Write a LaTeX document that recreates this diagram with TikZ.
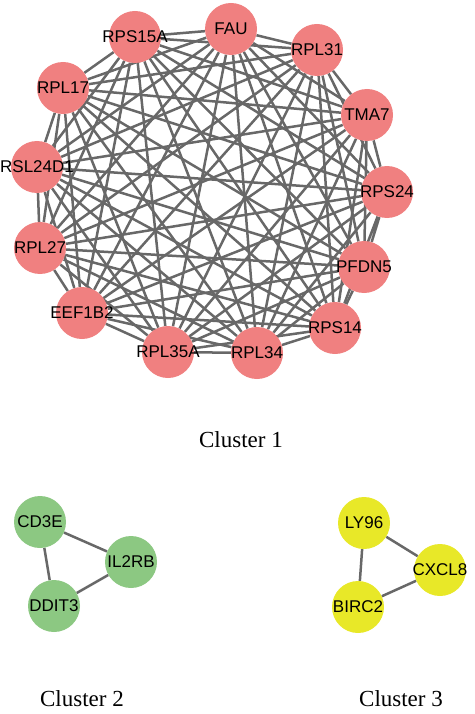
\documentclass[tikz,border=0pt]{standalone}
\usepackage{fontspec}
\setmainfont{Liberation Serif}
\newfontfamily\genefont{Liberation Sans}
\usetikzlibrary{positioning, backgrounds}
\definecolor{salmonnode}{RGB}{240,128,128}
\definecolor{greennode}{RGB}{140,200,130}
\definecolor{yellownode}{RGB}{232,232,40}
\definecolor{edgegray}{RGB}{104,104,104}
\tikzset{
  gene/.style={circle, minimum size=52pt, inner sep=0pt,
               label={[font=\genefont\fontsize{17}{19}\selectfont]center:#1}},
  hub/.style={gene=#1, fill=salmonnode},
  tcell/.style={gene=#1, fill=greennode},
  inflam/.style={gene=#1, fill=yellownode},
  link/.style={draw=edgegray, line width=2.5pt},
  caption/.style={font=\fontsize{23}{26}\selectfont, anchor=base},
}

\begin{document}
\begin{tikzpicture}[x=1pt, y=-1pt]
  \useasboundingbox (0,0) rectangle (474,714);
  % cluster 1
  \node[hub=FAU]     (fau)    at (231,29)  {};
  \node[hub=RPL31]   (rpl31)  at (317,50)  {};
  \node[hub=TMA7]    (tma7)   at (367,115) {};
  \node[hub=RPS24]   (rps24)  at (387,192) {};
  \node[hub=PFDN5]   (pfdn5)  at (364,267) {};
  \node[hub=RPS14]   (rps14)  at (335,328) {};
  \node[hub=RPL34]   (rpl34)  at (257,353) {};
  \node[hub=RPL35A]  (rpl35a) at (168,352) {};
  \node[hub=EEF1B2]  (eef1b2) at (82,313)  {};
  \node[hub=RPL27]   (rpl27)  at (40,248)  {};
  \node[hub=RSL24D1] (rsl24d1) at (37,167) {};
  \node[hub=RPL17]   (rpl17)  at (63,88)   {};
  \node[hub=RPS15A]  (rps15a) at (135,37)  {};
  \node[caption] (cap1) at (241,447) {Cluster 1};

  % cluster 2
  \node[tcell=CD3E]  (cd3e)  at (40,522)  {};
  \node[tcell=IL2RB] (il2rb) at (131,562) {};
  \node[tcell=DDIT3] (ddit3) at (54,606)  {};
  \node[caption] (cap2) at (82,706) {Cluster 2};

  % cluster 3
  \node[inflam=LY96]  (ly96)  at (364,523) {};
  \node[inflam=CXCL8] (cxcl8) at (440,570) {};
  \node[inflam=BIRC2] (birc2) at (358,607) {};
  \node[caption] (cap3) at (401,706) {Cluster 3};

  % edges go underneath the circles
  \begin{scope}[on background layer]
    \draw[link] (fau) -- (rpl31) (fau) -- (tma7) (fau) -- (rps24) (fau) -- (pfdn5)
      (fau) -- (rps14) (fau) -- (rpl34) (fau) -- (rpl35a) (fau) -- (eef1b2)
      (fau) -- (rpl27) (fau) -- (rsl24d1) (fau) -- (rpl17) (fau) -- (rps15a);
    \draw[link] (rpl31) -- (tma7) (rpl31) -- (rps24) (rpl31) -- (pfdn5)
      (rpl31) -- (rps14) (rpl31) -- (rpl34) (rpl31) -- (rpl35a) (rpl31) -- (eef1b2)
      (rpl31) -- (rpl27) (rpl31) -- (rsl24d1) (rpl31) -- (rpl17) (rpl31) -- (rps15a);
    \draw[link] (tma7) -- (rps24) (tma7) -- (pfdn5) (tma7) -- (rps14)
      (tma7) -- (rpl34) (tma7) -- (rpl35a) (tma7) -- (eef1b2) (tma7) -- (rpl27)
      (tma7) -- (rsl24d1) (tma7) -- (rpl17) (tma7) -- (rps15a);
    \draw[link] (rps24) -- (pfdn5) (rps24) -- (rps14) (rps24) -- (rpl34)
      (rps24) -- (rpl35a) (rps24) -- (eef1b2) (rps24) -- (rpl27)
      (rps24) -- (rsl24d1) (rps24) -- (rpl17) (rps24) -- (rps15a);
    \draw[link] (pfdn5) -- (rps14) (pfdn5) -- (rpl34) (pfdn5) -- (rpl35a)
      (pfdn5) -- (eef1b2) (pfdn5) -- (rpl27) (pfdn5) -- (rsl24d1)
      (pfdn5) -- (rpl17) (pfdn5) -- (rps15a);
    \draw[link] (rps14) -- (rpl34) (rps14) -- (rpl35a) (rps14) -- (eef1b2)
      (rps14) -- (rpl27) (rps14) -- (rsl24d1) (rps14) -- (rpl17) (rps14) -- (rps15a);
    \draw[link] (rpl34) -- (rpl35a) (rpl34) -- (eef1b2) (rpl34) -- (rpl27)
      (rpl34) -- (rsl24d1) (rpl34) -- (rpl17) (rpl34) -- (rps15a);
    \draw[link] (rpl35a) -- (eef1b2) (rpl35a) -- (rpl27) (rpl35a) -- (rsl24d1)
      (rpl35a) -- (rpl17) (rpl35a) -- (rps15a);
    \draw[link] (eef1b2) -- (rpl27) (eef1b2) -- (rsl24d1) (eef1b2) -- (rpl17)
      (eef1b2) -- (rps15a);
    \draw[link] (rpl27) -- (rsl24d1) (rpl27) -- (rpl17) (rpl27) -- (rps15a);
    \draw[link] (rsl24d1) -- (rpl17) (rsl24d1) -- (rps15a);
    \draw[link] (rpl17) -- (rps15a);
    % small clusters
    \draw[link] (cd3e) -- (il2rb) (cd3e) -- (ddit3) (ddit3) -- (il2rb);
    \draw[link] (ly96) -- (cxcl8) (ly96) -- (birc2) (birc2) -- (cxcl8);
  \end{scope}
\end{tikzpicture}
\end{document}
